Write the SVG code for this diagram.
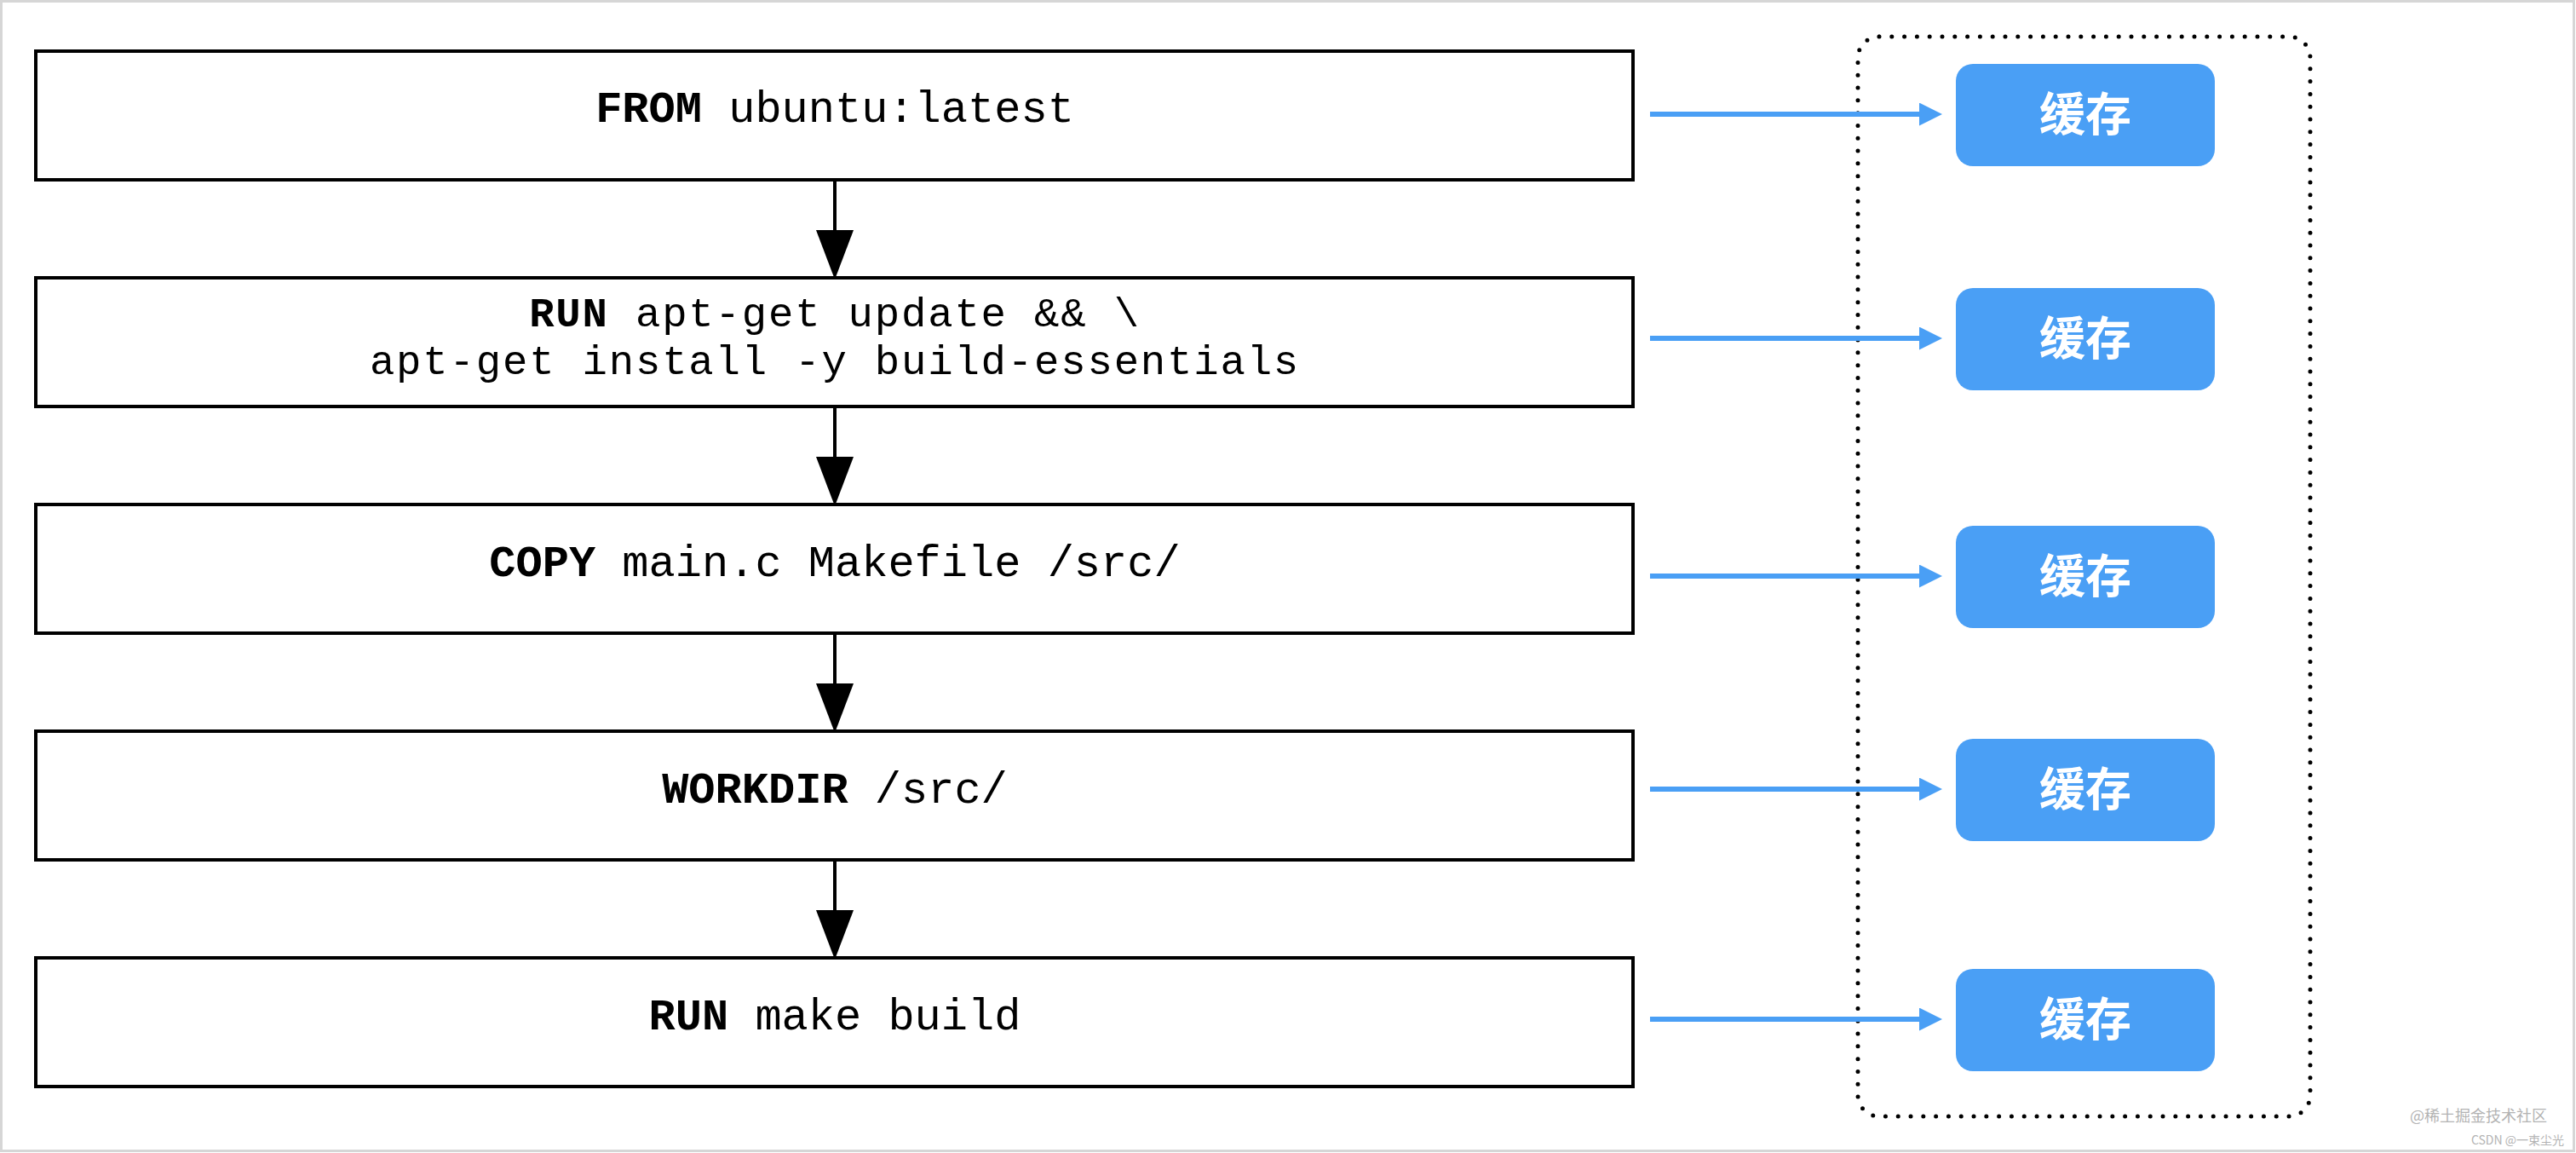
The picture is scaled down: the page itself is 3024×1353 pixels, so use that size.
<svg xmlns="http://www.w3.org/2000/svg" width="3024" height="1353" viewBox="0 0 3024 1353">
  <style>
    .step { fill: #ffffff; stroke: #000000; stroke-width: 4; }
    .code { font-family: "Liberation Mono", "DejaVu Sans Mono", monospace; font-size: 52px; fill: #000000; text-anchor: middle; }
    .code2 { font-size: 49px; letter-spacing: 1.8px; }
    .kw { font-weight: bold; }
    .cache { fill: #4A9FF5; }
    .cachetxt { font-family: "Noto Sans CJK SC", "Noto Sans", sans-serif; font-size: 54px; font-weight: bold; fill: #ffffff; text-anchor: middle; }
    .flow { stroke: #000000; stroke-width: 4; fill: none; }
    .hit { stroke: #4A9FF5; stroke-width: 6; fill: none; }
    .wm { font-family: "Noto Sans CJK SC", "Noto Sans", sans-serif; fill: #b3b3b3; }
  </style>
  <defs>
    <marker id="blackHead" viewBox="0 0 58 44" refX="30" refY="22" markerWidth="58" markerHeight="44" markerUnits="userSpaceOnUse" orient="auto">
      <path d="M0,0 L58,22 L0,44 z" fill="#000000"/>
    </marker>
    <marker id="blueHead" viewBox="0 0 27 27" refX="9" refY="13.5" markerWidth="27" markerHeight="27" markerUnits="userSpaceOnUse" orient="auto">
      <path d="M0,0 L27,13.5 L0,27 z" fill="#4A9FF5"/>
    </marker>
  </defs>

  <rect x="0" y="0" width="3024" height="1353" fill="#ffffff"/>
  <rect x="1.5" y="1.5" width="3020" height="1349" fill="none" stroke="#d6d6d6" stroke-width="3"/>

  <g id="cache-group">
    <rect x="2181" y="43" width="531" height="1267" rx="25" ry="25" fill="none" stroke="#000000" stroke-width="5" stroke-linecap="round" stroke-dasharray="0 14.8"/>
  </g>

  <g id="step1">
    <rect class="step" x="42" y="60" width="1875" height="151"/>
    <text class="code" x="980" y="143"><tspan class="kw">FROM</tspan> ubuntu:latest</text>
  </g>
  <g id="step2">
    <rect class="step" x="42" y="326" width="1875" height="151"/>
    <text class="code code2" x="980" y="383"><tspan class="kw">RUN</tspan> apt-get update &amp;&amp; \</text>
    <text class="code code2" x="980" y="439">apt-get install -y build-essentials</text>
  </g>
  <g id="step3">
    <rect class="step" x="42" y="592" width="1875" height="151"/>
    <text class="code" x="980" y="676"><tspan class="kw">COPY</tspan> main.c Makefile /src/</text>
  </g>
  <g id="step4">
    <rect class="step" x="42" y="858" width="1875" height="151"/>
    <text class="code" x="980" y="942"><tspan class="kw">WORKDIR</tspan> /src/</text>
  </g>
  <g id="step5">
    <rect class="step" x="42" y="1124" width="1875" height="151"/>
    <text class="code" x="980" y="1208"><tspan class="kw">RUN</tspan> make build</text>
  </g>

  <g id="cache1">
    <rect class="cache" x="2296" y="75" width="304" height="120" rx="20" ry="20"/>
    <text class="cachetxt" x="2448" y="154">缓存</text>
  </g>
  <g id="cache2">
    <rect class="cache" x="2296" y="338" width="304" height="120" rx="20" ry="20"/>
    <text class="cachetxt" x="2448" y="417">缓存</text>
  </g>
  <g id="cache3">
    <rect class="cache" x="2296" y="617" width="304" height="120" rx="20" ry="20"/>
    <text class="cachetxt" x="2448" y="696">缓存</text>
  </g>
  <g id="cache4">
    <rect class="cache" x="2296" y="867" width="304" height="120" rx="20" ry="20"/>
    <text class="cachetxt" x="2448" y="946">缓存</text>
  </g>
  <g id="cache5">
    <rect class="cache" x="2296" y="1137" width="304" height="120" rx="20" ry="20"/>
    <text class="cachetxt" x="2448" y="1216">缓存</text>
  </g>

  <g id="connectors">
    <line class="flow" x1="980" y1="211" x2="980" y2="300" marker-end="url(#blackHead)"/>
    <line class="flow" x1="980" y1="477" x2="980" y2="566" marker-end="url(#blackHead)"/>
    <line class="flow" x1="980" y1="743" x2="980" y2="832" marker-end="url(#blackHead)"/>
    <line class="flow" x1="980" y1="1009" x2="980" y2="1098" marker-end="url(#blackHead)"/>

    <line class="hit" x1="1937" y1="134" x2="2262" y2="134" marker-end="url(#blueHead)"/>
    <line class="hit" x1="1937" y1="397" x2="2262" y2="397" marker-end="url(#blueHead)"/>
    <line class="hit" x1="1937" y1="676" x2="2262" y2="676" marker-end="url(#blueHead)"/>
    <line class="hit" x1="1937" y1="926" x2="2262" y2="926" marker-end="url(#blueHead)"/>
    <line class="hit" x1="1937" y1="1196" x2="2262" y2="1196" marker-end="url(#blueHead)"/>
  </g>

  <g id="watermark">
    <text class="wm" x="2990" y="1316" font-size="18" text-anchor="end">@稀土掘金技术社区</text>
    <text class="wm" x="3010" y="1343" font-size="14" text-anchor="end" fill="#a0a0a0">CSDN @一束尘光</text>
  </g>
</svg>
